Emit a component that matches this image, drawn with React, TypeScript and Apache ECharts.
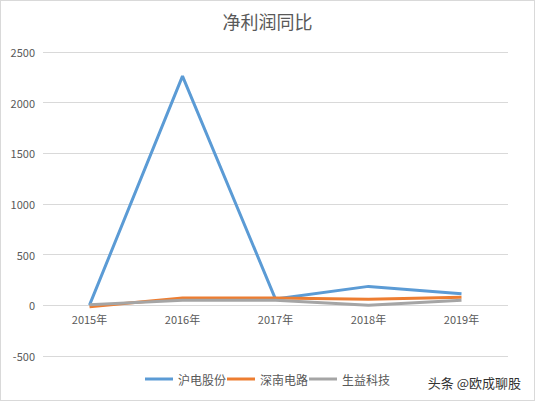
import React, { useEffect, useRef } from "react";
import * as echarts from "echarts";

const categories = ["2015年", "2016年", "2017年", "2018年", "2019年"];
const huDian = [2, 2262, 62, 187, 115];
const shenNan = [-15, 72, 72, 59, 79];
const shengYi = [5, 49, 49, 2, 49];
const yTicks = { min: -500, max: 2500, interval: 500 };

const FONT = "'Noto Sans CJK SC', 'Microsoft YaHei', sans-serif";

export default function App() {
  const ref = useRef<HTMLDivElement>(null);
  useEffect(() => {
    document.body.style.margin = "0";
    const chart = echarts.init(ref.current!, null, { renderer: "svg" });
    const mk = (name: string, data: number[], color: string) => ({
      name,
      type: "line",
      data,
      showSymbol: false,
      symbol: "none",
      lineStyle: { width: 3, color },
      itemStyle: { color },
    });
    chart.setOption({
      animation: false,
      backgroundColor: "#ffffff",
      title: {
        text: "净利润同比",
        left: "center",
        top: 6,
        textStyle: { fontFamily: FONT, fontSize: 18, fontWeight: "normal", color: "#595959" },
      },
      grid: { left: 42, right: 26, top: 51, bottom: 44, containLabel: false },
      xAxis: {
        type: "category",
        data: categories,
        boundaryGap: true,
        offset: -51,
        axisLine: { show: false, onZero: false },
        axisTick: { show: false },
        axisLabel: { fontFamily: FONT, fontSize: 11, color: "#595959", margin: 8 },
      },
      yAxis: {
        type: "value",
        min: yTicks.min,
        max: yTicks.max,
        interval: yTicks.interval,
        axisLine: { show: false },
        axisTick: { show: false },
        splitLine: { lineStyle: { color: "#d9d9d9", width: 1 } },
        axisLabel: {
          fontFamily: FONT,
          fontSize: 11,
          color: "#595959",
          margin: 8,
          formatter: (v: number) => String(v),
        },
      },
      legend: {
        bottom: 10,
        left: 139,
        itemWidth: 28,
        itemHeight: 3,
        itemGap: 1,
        icon: "rect",
        textStyle: { fontFamily: FONT, fontSize: 12, color: "#595959" },
        data: ["沪电股份", "深南电路", "生益科技"],
      },
      graphic: [
        {
          type: "text",
          right: 13,
          bottom: 11,
          style: { text: "头条 @欧成聊股", fontFamily: FONT, fontSize: 13, fill: "#333333" },
        },
      ],
      series: [
        mk("沪电股份", huDian, "#5b9bd5"),
        mk("深南电路", shenNan, "#ed7d31"),
        mk("生益科技", shengYi, "#a5a5a5"),
      ],
    });
    return () => chart.dispose();
  }, []);
  return (
    <div
      ref={ref}
      style={{ width: 535, height: 401, boxSizing: "border-box", border: "1px solid #d9d9d9" }}
    />
  );
}
